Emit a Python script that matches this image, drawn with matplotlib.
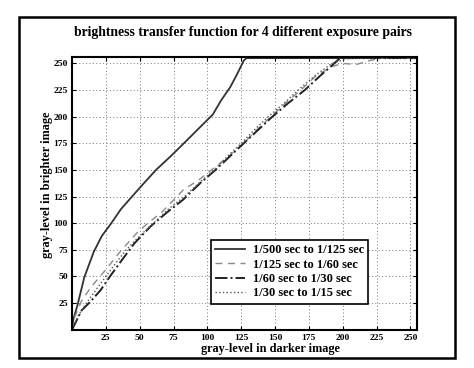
import matplotlib
matplotlib.use("Agg")
import matplotlib.pyplot as plt
from matplotlib.patches import Rectangle

plt.rcParams["font.family"] = "Liberation Serif"
plt.rcParams["font.weight"] = "bold"

# 1/500 sec to 1/125 sec
x_500 = [0, 1, 4, 9, 16, 22, 29, 36, 45, 52, 62, 73, 85, 100, 104, 110, 117, 122, 127, 129, 255]
y_500 = [0, 10, 23, 49, 73, 88, 100, 113, 126, 136, 150, 163, 178, 197, 202, 215, 228, 240, 253, 255, 255]

# 1/125 sec to 1/60 sec
x_125 = [0, 2, 7, 14, 24, 36, 48, 56, 66, 82, 94, 105, 116, 126, 136, 147, 158, 169, 180, 192, 200, 210, 218, 228, 255]
y_125 = [0, 12, 27, 40, 55, 74, 91, 100, 110, 131, 141, 152, 163, 174, 187, 200, 213, 225, 238, 247, 250, 249, 252, 255, 255]

# 1/60 sec to 1/30 sec
x_60 = [0, 7, 14, 21, 28, 36, 46, 58, 70, 82, 95, 106, 116, 126, 137, 148, 160, 172, 183, 192, 198, 255]
y_60 = [0, 18, 27, 37, 50, 64, 81, 97, 110, 122, 138, 150, 162, 174, 187, 200, 213, 225, 238, 248, 255, 255]

# 1/30 sec to 1/15 sec
x_30 = [0, 4, 10, 18, 25, 32, 40, 50, 60, 71, 83, 94, 105, 115, 125, 135, 145, 157, 168, 180, 192, 205, 255]
y_30 = [0, 12, 24, 38, 50, 62, 75, 88, 100, 113, 125, 138, 150, 163, 175, 188, 200, 213, 226, 239, 250, 255, 255]

ticks = [25, 50, 75, 100, 125, 150, 175, 200, 225, 250]
labels = ["1/500 sec to 1/125 sec", "1/125 sec to 1/60 sec",
          "1/60 sec to 1/30 sec", "1/30 sec to 1/15 sec"]

fig = plt.figure(figsize=(4.74, 3.68), dpi=100)
ax = fig.add_axes([0.152, 0.104, 0.728, 0.741])

ax.plot(x_500, y_500, color="#333333", linestyle="-", linewidth=1.3, label=labels[0])
ax.plot(x_125, y_125, color="#8a8a8a", linestyle=(0, (5, 4)), linewidth=1.0, label=labels[1])
ax.plot(x_60, y_60, color="#222222", linestyle="-.", linewidth=1.4, label=labels[2])
ax.plot(x_30, y_30, color="#555555", linestyle=":", linewidth=1.0, label=labels[3])

ax.set_xlim(0, 255)
ax.set_ylim(0, 256)
ax.set_xticks(ticks)
ax.set_yticks(ticks)
ax.tick_params(direction="in", length=3, width=0.8, labelsize=6.8,
               top=True, right=True, pad=3)
for lab in ax.get_xticklabels() + ax.get_yticklabels():
    lab.set_fontweight("bold")
ax.grid(True, color="#777777", linestyle=(0, (1, 2.5)), linewidth=0.7)
for sp in ax.spines.values():
    sp.set_linewidth(1.5)

ax.set_xlabel("gray-level in darker image", fontsize=8.8, fontweight="bold", va="center")
ax.set_ylabel("gray-level in brighter image", fontsize=8.8, fontweight="bold", va="center")
ax.xaxis.set_label_coords(0.574, -0.069)
ax.yaxis.set_label_coords(-0.072, 0.532)

leg = ax.legend(loc="lower left", bbox_to_anchor=(0.403, 0.095), fontsize=8.9,
                frameon=True, fancybox=False, edgecolor="black", framealpha=1,
                handlelength=2.4, handletextpad=0.6, labelspacing=0.2,
                borderpad=0.35, borderaxespad=0)
leg.get_frame().set_linewidth(1.2)

fig.text(0.513, 0.913, "brightness transfer function for 4 different exposure pairs",
         ha="center", va="center", fontsize=9.9, fontweight="bold")

fig.patches.append(Rectangle((0.040, 0.027), 0.920, 0.927, transform=fig.transFigure,
                             fill=False, edgecolor="black", linewidth=1.8))

fig.savefig("out.png", dpi=100)
